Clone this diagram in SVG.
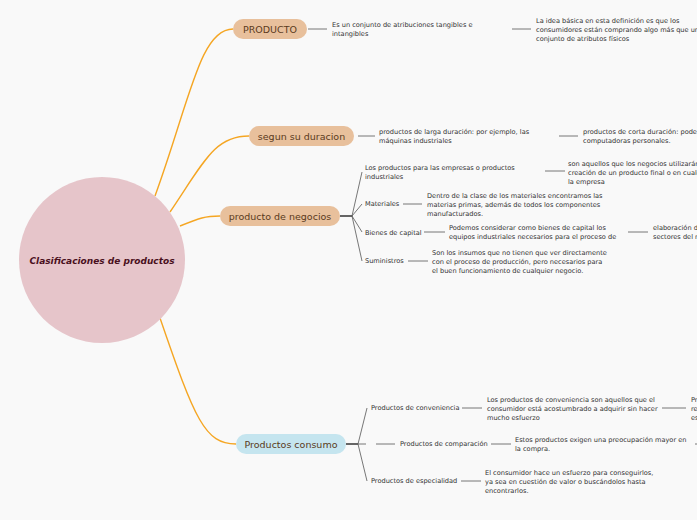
<svg xmlns="http://www.w3.org/2000/svg" width="697" height="520" viewBox="0 0 697 520">
<style>
.t{font-family:"DejaVu Sans",sans-serif;font-size:6.6px;fill:#333}
.p{font-family:"DejaVu Sans",sans-serif;font-size:9.5px;fill:#5a3a20;text-anchor:middle}
.o{fill:none;stroke:#f5a623;stroke-width:1.4}
.g{fill:none;stroke:#555;stroke-width:0.8}
</style>
<rect width="697" height="520" fill="#f9f9f9"/>
<g id="connectors">
<path class="o" d="M155,196 C190,100 200,29 233,29"/>
<path class="o" d="M170,212 C205,160 215,136 249,136"/>
<path class="o" d="M180,226 C200,218 205,216 220,216"/>
<path class="o" d="M160,318 C195,420 205,444 236,444"/>
<path d="M340,216 H352" stroke="#333" stroke-width="1.5"/>
<path class="g" d="M352,216 L362,172 M352,216 L362,204 M352,216 L362,232 M352,216 L362,261"/>
<path d="M346,444 H358" stroke="#333" stroke-width="1.5"/>
<path class="g" d="M358,444 L367,408 M358,444 L367,481 M358,444 H366 M376,444 H395"/>
<path class="g" d="M308,29 H327 M512,29 H531 M358,136 H375 M559,136 H578 M545,171 H565 M403,204 H422 M424,232 H445 M628,232 H648 M408,261 H428 M462,408 H482 M662,408 H686 M491,444 H511 M695,444 H697 M461,481 H481"/>
</g>
<g id="center"><circle cx="102" cy="260" r="83" fill="#e6c5ca"/>
<text x="102" y="264" text-anchor="middle" font-family="DejaVu Sans,sans-serif" font-size="9" font-weight="bold" font-style="italic" fill="#4a1020">Clasificaciones de productos</text></g>
<g id="producto"><rect x="233" y="19" width="74" height="20" rx="10" fill="#e8c09c"/><text class="p" x="270" y="33">PRODUCTO</text></g>
<g id="duracion"><rect x="249" y="126" width="105" height="20" rx="10" fill="#e8c09c"/><text class="p" x="301.5" y="140">segun su duracion</text></g>
<g id="negocios"><rect x="220" y="206" width="120" height="20" rx="10" fill="#e8c09c"/><text class="p" x="280" y="220">producto de negocios</text></g>
<g id="consumo"><rect x="236" y="434" width="110" height="20" rx="10" fill="#c5e5ef"/><text class="p" x="291" y="448" fill="#1a3a4a">Productos consumo</text></g>
<g id="texts" class="t">
<text class="t" x="332" y="27">Es un conjunto de atribuciones tangibles e</text><text class="t" x="332" y="36">intangibles</text>
<text class="t" x="536" y="23">La idea básica en esta definición es que los</text><text class="t" x="536" y="32">consumidores están comprando algo más que un</text><text class="t" x="536" y="41">conjunto de atributos físicos</text>
<text class="t" x="379" y="134">productos de larga duración: por ejemplo, las</text><text class="t" x="379" y="143">máquinas industriales</text>
<text class="t" x="583" y="134">productos de corta duración: podemos</text><text class="t" x="583" y="143">computadoras personales.</text>
<text class="t" x="365" y="170">Los productos para las empresas o productos</text><text class="t" x="365" y="179">industriales</text>
<text class="t" x="568" y="166">son aquellos que los negocios utilizarán para la</text><text class="t" x="568" y="175">creación de un producto final o en cualquier área de</text><text class="t" x="568" y="184">la empresa</text>
<text class="t" x="365" y="206">Materiales</text>
<text class="t" x="427" y="198">Dentro de la clase de los materiales encontramos las</text><text class="t" x="427" y="207">materias primas, además de todos los componentes</text><text class="t" x="427" y="216">manufacturados.</text>
<text class="t" x="365" y="235">Bienes de capital</text>
<text class="t" x="449" y="230">Podemos considerar como bienes de capital los</text><text class="t" x="449" y="239">equipos industriales necesarios para el proceso de</text>
<text class="t" x="653" y="230">elaboración de los</text><text class="t" x="653" y="239">sectores del mercado</text>
<text class="t" x="365" y="263">Suministros</text>
<text class="t" x="432" y="255">Son los insumos que no tienen que ver directamente</text><text class="t" x="432" y="264">con el proceso de producción, pero necesarios para</text><text class="t" x="432" y="273">el buen funcionamiento de cualquier negocio.</text>
<text class="t" x="371" y="410">Productos de conveniencia</text>
<text class="t" x="487" y="402">Los productos de conveniencia son aquellos que el</text><text class="t" x="487" y="411">consumidor está acostumbrado a adquirir sin hacer</text><text class="t" x="487" y="420">mucho esfuerzo</text>
<text class="t" x="691" y="402">Pr</text><text class="t" x="691" y="411">re</text><text class="t" x="691" y="420">es</text>
<text class="t" x="400" y="446">Productos de comparación</text>
<text class="t" x="515" y="442">Estos productos exigen una preocupación mayor en</text><text class="t" x="515" y="451">la compra.</text>
<text class="t" x="371" y="483">Productos de especialidad</text>
<text class="t" x="485" y="475">El consumidor hace un esfuerzo para conseguirlos,</text><text class="t" x="485" y="484">ya sea en cuestión de valor o buscándolos hasta</text><text class="t" x="485" y="493">encontrarlos.</text>
</g>
</svg>
